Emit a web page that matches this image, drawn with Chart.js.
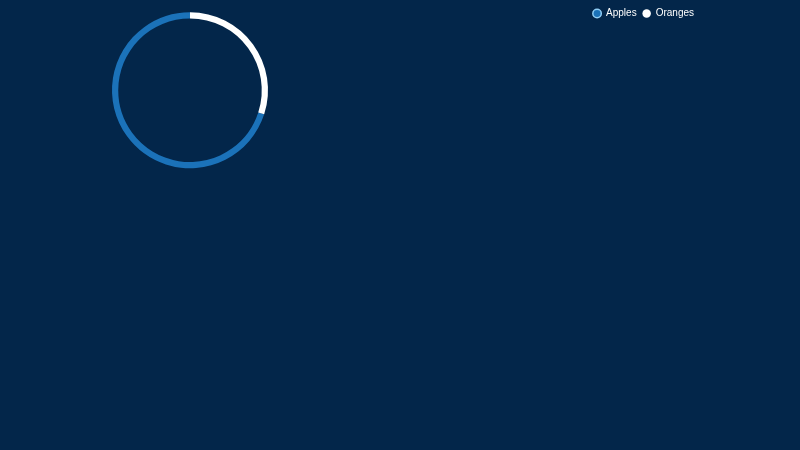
<!DOCTYPE html>
<html>
<head>
<meta charset="utf-8">
<script src="https://cdn.jsdelivr.net/npm/chart.js@4.4.1/dist/chart.umd.min.js"></script>
<style>
	html, body { margin: 0; padding: 0; background: #03264a; }
	#wrap { width: 800px; height: 450px; }
</style>
</head>
<body>
<div id="wrap"><canvas id="mycanvas"></canvas></div>
<script>
var labels = ["Apples", "Oranges"];
var values = [70, 30];
var colors = ["#1b72b9", "#ffffff"];

var ctx = document.getElementById("mycanvas");

var chartdata = {
	labels: labels,
	datasets: [
		{
			data: values,
			backgroundColor: colors,
			borderWidth: 0,
			radius: 78,
			cutout: "92%",
			rotation: 108
		}
	]
};

var DoughnutGraph = new Chart(ctx, {
	type: 'doughnut',
	data: chartdata,
	options: {
		responsive: true,
		maintainAspectRatio: false,
		animation: false,
		layout: {
			padding: { top: 2.5, right: 100, bottom: 298, left: 0 }
		},
		plugins: {
			tooltip: { enabled: false },
			// empty title on the right just to push the ring to the left
			title: {
				display: true,
				text: "",
				position: "right",
				font: { size: 12 },
				padding: { top: 0, bottom: 305.6 }
			},
			legend: {
				position: "top",
				align: "end",
				labels: {
					color: "#ffffff",
					font: { size: 10 },
					usePointStyle: true,
					pointStyle: "circle",
					boxWidth: 8,
					boxHeight: 6,
					padding: 6,
					generateLabels: function(chart) {
						var items = Chart.controllers.doughnut.overrides.plugins.legend.labels.generateLabels(chart);
						items[0].strokeStyle = "#8fcdf5";
						items[0].lineWidth = 1.5;
						items[1].strokeStyle = "#ffffff";
						items[1].lineWidth = 0;
						return items;
					}
				}
			}
		}
	}
});
</script>
</body>
</html>
